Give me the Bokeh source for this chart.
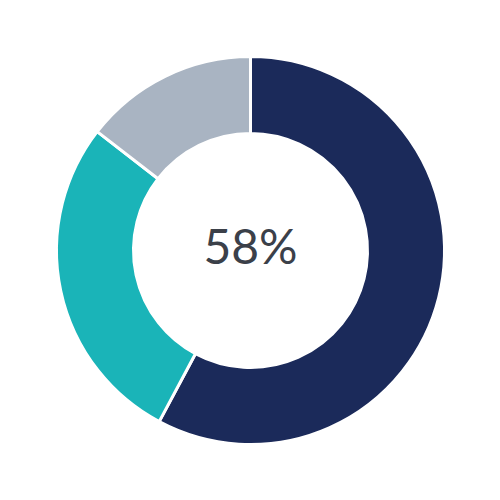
import math
from bokeh.plotting import figure
from bokeh.models import ColumnDataSource, Range1d
from bokeh.embed import file_html
from bokeh.resources import INLINE
from bokeh.core.properties import value

categories = ["A", "B", "C"]
values = [57.8, 27.7, 14.5]
colors = ["#1b2a5a", "#1ab4b8", "#a9b4c2"]
center_label = "58%"

total = sum(values)
starts, ends = [], []
acc = 0.0
for v in values:
    a0 = math.pi / 2 - 2 * math.pi * acc / total
    acc += v
    a1 = math.pi / 2 - 2 * math.pi * acc / total
    starts.append(a0)
    ends.append(a1)

src = ColumnDataSource(dict(cat=categories, val=values, color=colors,
                            start=starts, end=ends))

W = 492
p = figure(width=W, height=W, output_backend="svg", toolbar_location=None,
           x_range=Range1d(-250, 242), y_range=Range1d(-242, 250),
           min_border=0)
p.axis.visible = False
p.grid.visible = False
p.outline_line_color = None
p.background_fill_color = "white"

p.annular_wedge(x=0, y=0, inner_radius=117, outer_radius=194,
                start_angle="start", end_angle="end", direction="clock",
                fill_color="color", line_color="white", line_width=3,
                source=src)

p.text(x=[0], y=[5], text=[center_label], text_align="center",
       text_baseline="middle", text_font=value("Lato"),
       text_font_size="48px", text_color="#3b4049")

open("out.html", "w").write(file_html(p, INLINE))
